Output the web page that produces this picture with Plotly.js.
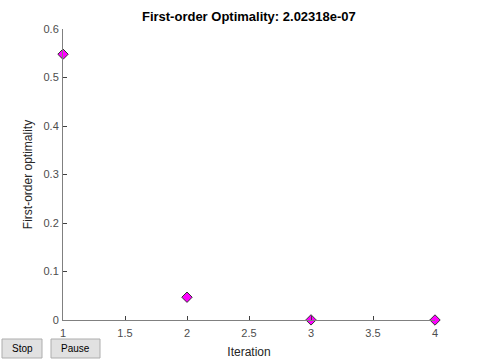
<!DOCTYPE html>
<html>
<head>
<meta charset="utf-8">
<script src="https://cdn.plot.ly/plotly-3.0.1.min.js"></script>
<style>html,body{margin:0;padding:0;background:#fff;}#chart{width:480px;height:360px;}</style>
</head>
<body>
<div id="chart"></div>
<script>
const iterations = [1, 2, 3, 4];
const optimality = [0.548, 0.047, 0.0002, 2.02318e-7];
const xTicks = [1, 1.5, 2, 2.5, 3, 3.5, 4];
const yTicks = [0, 0.1, 0.2, 0.3, 0.4, 0.5, 0.6];
const titleText = 'First-order Optimality: 2.02318e-07';
const buttonLabels = ['Stop', 'Pause'];

const font = 'Liberation Sans, Arial, Helvetica, sans-serif';

const trace = {
  x: iterations,
  y: optimality,
  type: 'scatter',
  mode: 'markers',
  cliponaxis: false,
  marker: {symbol: 'diamond', size: 8, color: '#ff00ff', line: {color: '#333333', width: 1}},
  hoverinfo: 'skip'
};

const btnPos = [{x0: 2, x1: 42}, {x0: 51, x1: 100}];
const shapes = [];
const annotations = [];
buttonLabels.forEach((lab, i) => {
  const p = btnPos[i];
  const toX = px => (px - 63) / (435 - 63);
  const toY = py => (320 - py) / (320 - 29);
  shapes.push({type: 'rect', xref: 'paper', yref: 'paper',
    x0: toX(p.x0), x1: toX(p.x1), y0: toY(358), y1: toY(339),
    fillcolor: '#e1e1e1', line: {color: '#adadad', width: 1}});
  annotations.push({xref: 'paper', yref: 'paper', x: toX((p.x0 + p.x1) / 2), y: toY(348.5),
    text: lab, showarrow: false, xanchor: 'center', yanchor: 'middle',
    font: {family: font, size: 10, color: '#000000'}});
});

const layout = {
  width: 480, height: 360,
  margin: {l: 63, r: 45, t: 29, b: 40, pad: 0},
  paper_bgcolor: '#ffffff', plot_bgcolor: '#ffffff',
  showlegend: false,
  title: {text: '<b>' + titleText + '</b>', x: 0.5185, xanchor: 'center', y: 0.955, yanchor: 'middle',
    font: {family: font, size: 13, color: '#000000'}},
  xaxis: {
    range: [1, 4], tickvals: xTicks, ticktext: xTicks.map(String),
    showline: true, linecolor: '#808080', linewidth: 1, mirror: false,
    ticks: 'inside', ticklen: 4, tickcolor: '#404040', showgrid: false, zeroline: false,
    ticklabelstandoff: 3,
    tickfont: {family: font, size: 11, color: '#4d4d4d'},
    title: {text: 'Iteration', font: {family: font, size: 12, color: '#262626'}, standoff: 9}
  },
  yaxis: {
    range: [0, 0.6], tickvals: yTicks, ticktext: yTicks.map(String),
    showline: true, linecolor: '#808080', linewidth: 1, mirror: false,
    ticks: 'inside', ticklen: 4, tickcolor: '#404040', showgrid: false, zeroline: false,
    ticklabelstandoff: 1,
    tickfont: {family: font, size: 11, color: '#4d4d4d'},
    title: {text: 'First-order optimality', font: {family: font, size: 12, color: '#262626'}, standoff: 8}
  },
  shapes: shapes,
  annotations: annotations
};

Plotly.newPlot('chart', [trace], layout, {displayModeBar: false, staticPlot: true});
</script>
</body>
</html>
